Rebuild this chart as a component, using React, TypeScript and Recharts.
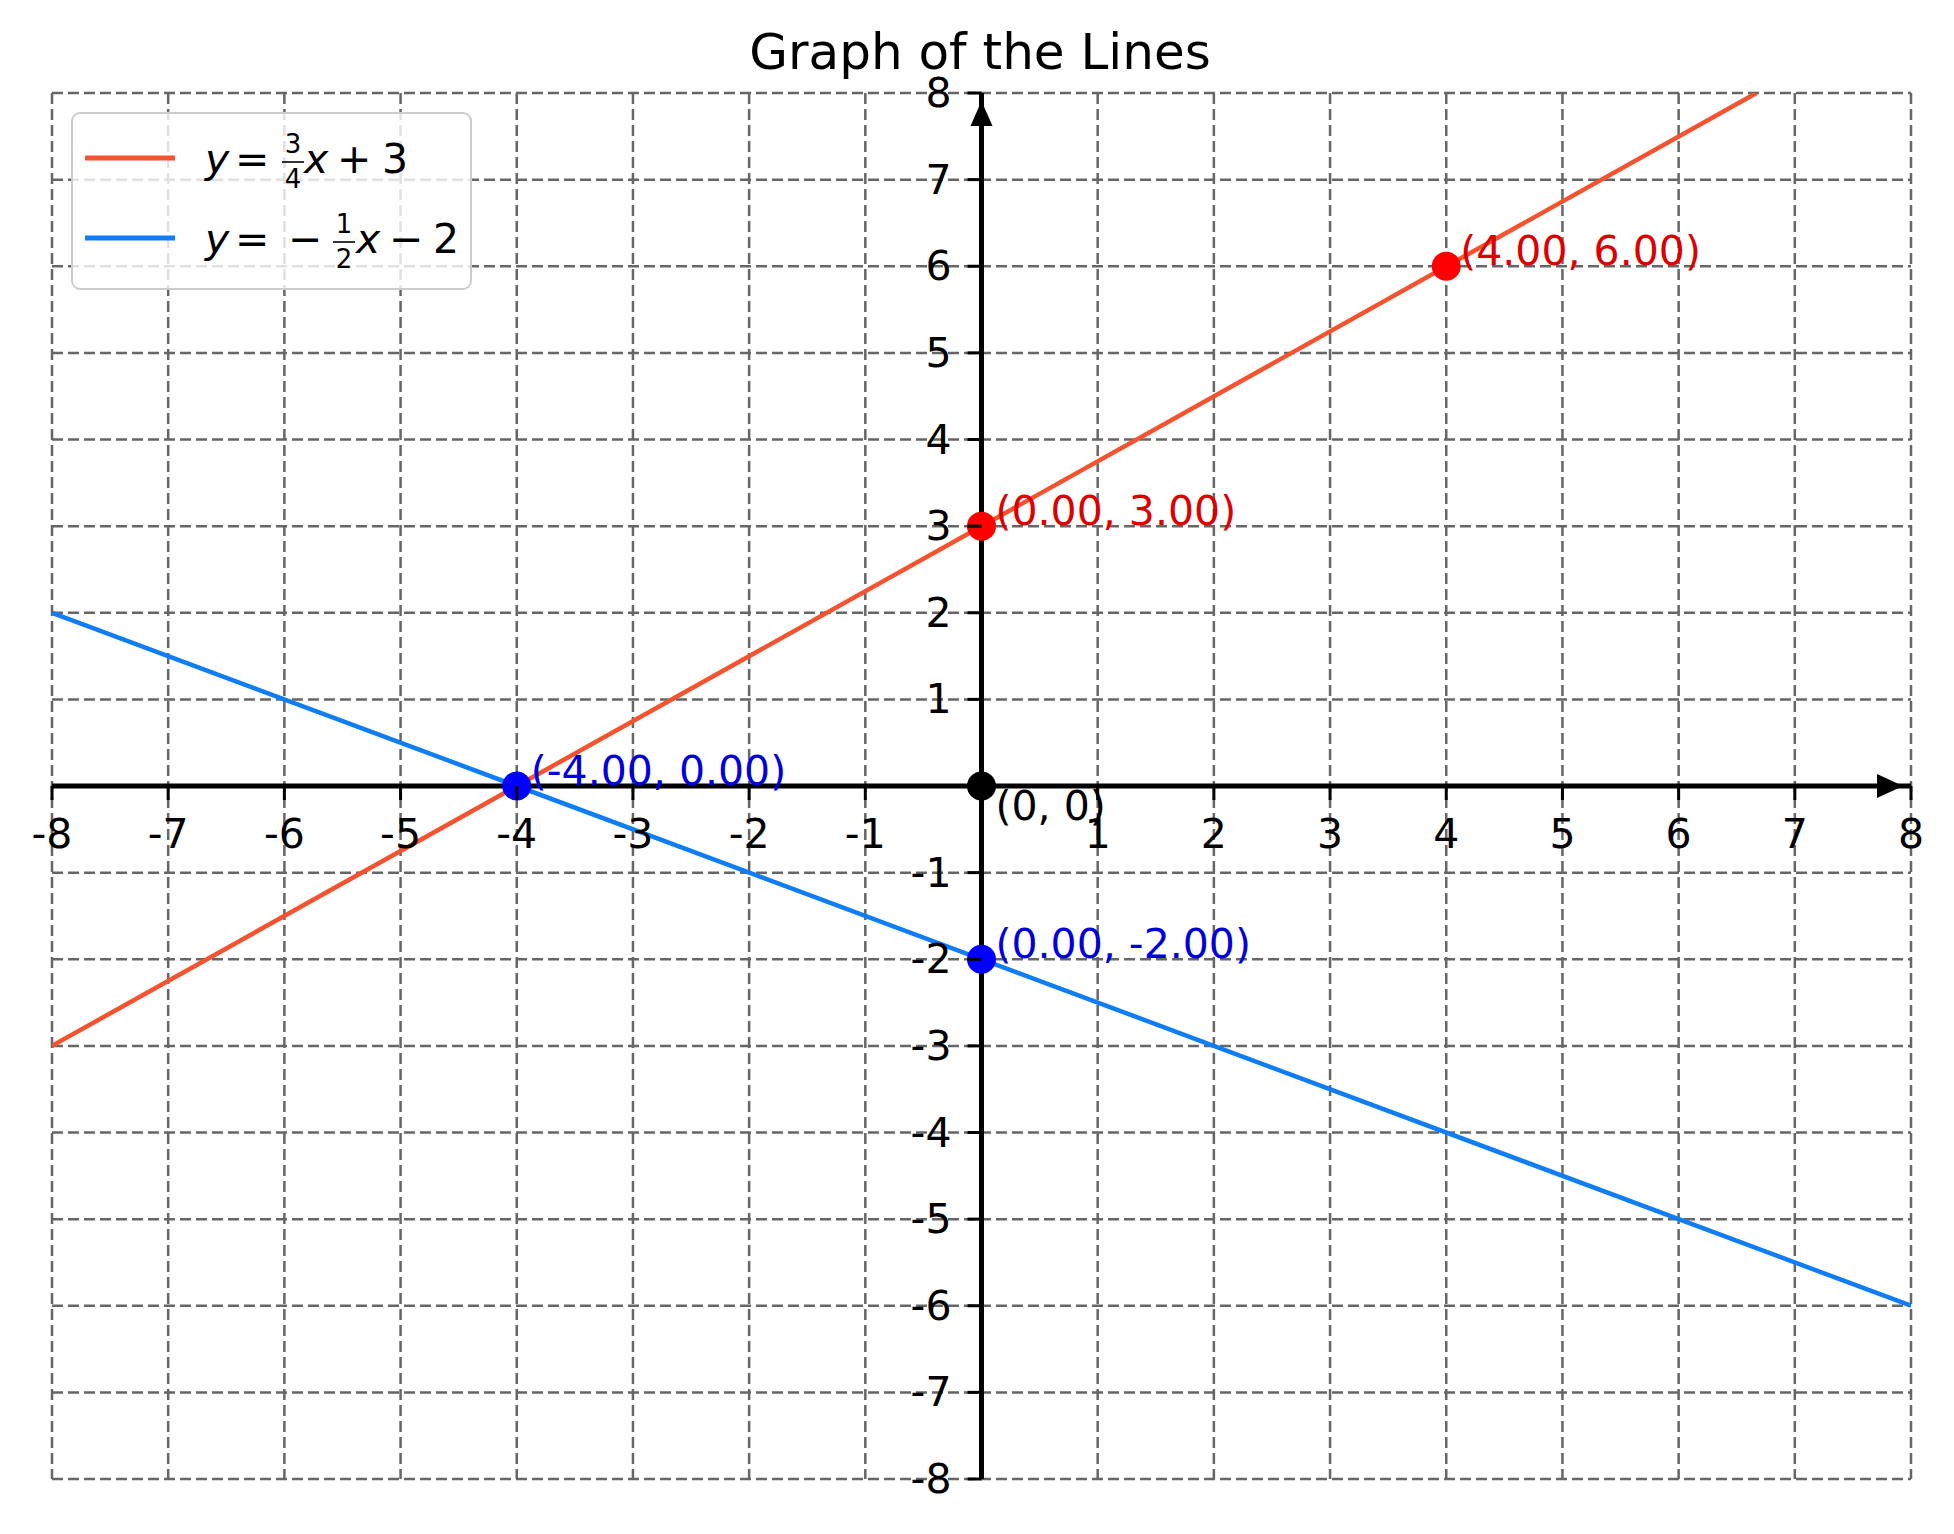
import React from 'react';
import {
  ComposedChart,
  Line,
  Scatter,
  XAxis,
  YAxis,
  CartesianGrid,
  ReferenceLine,
  ReferenceDot,
  Legend,
} from 'recharts';

// ---------------- data ----------------
const TITLE = 'Graph of the Lines';
const AXIS_MIN = -8;
const AXIS_MAX = 8;
const X_TICKS = [-8, -7, -6, -5, -4, -3, -2, -1, 0, 1, 2, 3, 4, 5, 6, 7, 8];
const Y_TICKS = [-8, -7, -6, -5, -4, -3, -2, -1, 0, 1, 2, 3, 4, 5, 6, 7, 8];

// y = 3/4 x + 3 (visible segment)
const ORANGE_LINE = [
  { x: -8, y: -3 },
  { x: 6.67, y: 8 },
];
// y = -1/2 x - 2
const BLUE_LINE = [
  { x: -8, y: 2 },
  { x: 8, y: -6 },
];

const RED_POINTS = [
  { x: 0, y: 3, label: '(0.00, 3.00)' },
  { x: 4, y: 6, label: '(4.00, 6.00)' },
];
const BLUE_POINTS = [
  { x: -4, y: 0, label: '(-4.00, 0.00)' },
  { x: 0, y: -2, label: '(0.00, -2.00)' },
];
const ORIGIN_POINT = [{ x: 0, y: 0, label: '(0, 0)' }];

// ---------------- layout / style ----------------
const W = 1946;
const H = 1526;
const MARGIN = { top: 85, right: 43, bottom: 54, left: 43 };
const AXIS_THICK = 1;
const PLOT_W = W - MARGIN.left - MARGIN.right - AXIS_THICK;
const PLOT_H = H - MARGIN.top - MARGIN.bottom - AXIS_THICK;
const ZERO_X = MARGIN.left + AXIS_THICK + PLOT_W / 2;
const ZERO_Y = MARGIN.top + PLOT_H / 2;
const FONT = "'DejaVu Sans', 'Liberation Sans', sans-serif";
const FS = 41;

const ORANGE = '#f4532f';
const BLUE = '#0f7df5';
const GRID = '#666666';

const XTick = (props: any) => {
  const { x, payload } = props;
  const v = payload.value;
  return (
    <g>
      <line x1={x} x2={x} y1={ZERO_Y} y2={ZERO_Y + 14} stroke="#000" strokeWidth={3} />
      {v !== 0 && (
        <text x={x} y={ZERO_Y + 62} textAnchor="middle" fontFamily={FONT} fontSize={FS} fill="#000">
          {String(v)}
        </text>
      )}
    </g>
  );
};

const YTick = (props: any) => {
  const { y, payload } = props;
  const v = payload.value;
  return (
    <g>
      <line x1={ZERO_X - 14} x2={ZERO_X} y1={y} y2={y} stroke="#000" strokeWidth={3} />
      {v !== 0 && (
        <text x={ZERO_X - 30} y={y + 14} textAnchor="end" fontFamily={FONT} fontSize={FS} fill="#000">
          {String(v)}
        </text>
      )}
    </g>
  );
};

const pointShape = (fill: string, textColor: string, dx: number, dy: number) => (props: any) => {
  const { cx, cy, payload } = props;
  return (
    <g>
      <circle cx={cx} cy={cy} r={14.5} fill={fill} />
      <text x={cx + dx} y={cy + dy} fontFamily={FONT} fontSize={FS} fill={textColor}>
        {payload.label}
      </text>
    </g>
  );
};

const UpArrow = (props: any) => {
  const { cx, cy } = props;
  return (
    <polygon
      points={`${cx},${cy + 8} ${cx - 11},${cy + 33} ${cx + 11},${cy + 33}`}
      fill="#000"
    />
  );
};

const RightArrow = (props: any) => {
  const { cx, cy } = props;
  return (
    <polygon
      points={`${cx - 8},${cy} ${cx - 34},${cy - 12} ${cx - 34},${cy + 12}`}
      fill="#000"
    />
  );
};

const LegendBox = () => {
  const t = { fontFamily: FONT, fill: '#000' } as any;
  return (
    <svg width={402} height={179} style={{ display: 'block' }}>
      <rect x={1} y={1} width={399} height={176} rx={8} ry={8} fill="rgba(255,255,255,0.8)" stroke="#cccccc" strokeWidth={2} />
      {/* row 1 */}
      <line x1={14} x2={104} y1={46} y2={46} stroke={ORANGE} strokeWidth={5} />
      <text {...t} x={134} y={61} fontSize={FS} fontStyle="italic">y</text>
      <text {...t} x={164} y={61} fontSize={FS}>=</text>
      <text {...t} x={222} y={41} fontSize={26} textAnchor="middle">3</text>
      <line x1={211} x2={233} y1={50} y2={50} stroke="#000" strokeWidth={1.6} />
      <text {...t} x={222} y={76} fontSize={26} textAnchor="middle">4</text>
      <text {...t} x={233} y={61} fontSize={FS} fontStyle="italic">x</text>
      <text {...t} x={266} y={61} fontSize={FS}>+</text>
      <text {...t} x={311} y={61} fontSize={FS}>3</text>
      {/* row 2 */}
      <line x1={14} x2={104} y1={126} y2={126} stroke={BLUE} strokeWidth={5} />
      <text {...t} x={134} y={141} fontSize={FS} fontStyle="italic">y</text>
      <text {...t} x={164} y={141} fontSize={FS}>=</text>
      <text {...t} x={217} y={141} fontSize={FS}>−</text>
      <text {...t} x={273} y={121} fontSize={26} textAnchor="middle">1</text>
      <line x1={262} x2={284} y1={130} y2={130} stroke="#000" strokeWidth={1.6} />
      <text {...t} x={273} y={156} fontSize={26} textAnchor="middle">2</text>
      <text {...t} x={285} y={141} fontSize={FS} fontStyle="italic">x</text>
      <text {...t} x={318} y={141} fontSize={FS}>−</text>
      <text {...t} x={362} y={141} fontSize={FS}>2</text>
    </svg>
  );
};

export default function App() {
  return (
    <div style={{ position: 'relative', width: W, height: H }}>
      <ComposedChart width={W} height={H} margin={MARGIN}>
        <CartesianGrid stroke={GRID} strokeDasharray="11 5" strokeWidth={2.5} />
        <XAxis
          dataKey="x"
          type="number"
          domain={[AXIS_MIN, AXIS_MAX]}
          ticks={X_TICKS}
          interval={0}
          allowDataOverflow
          axisLine={false}
          tickLine={false}
          height={AXIS_THICK}
          tick={(p: any) => <XTick {...p} />}
        />
        <YAxis
          dataKey="y"
          type="number"
          domain={[AXIS_MIN, AXIS_MAX]}
          ticks={Y_TICKS}
          interval={0}
          allowDataOverflow
          axisLine={false}
          tickLine={false}
          width={AXIS_THICK}
          tick={(p: any) => <YTick {...p} />}
        />
        <Legend
          layout="vertical"
          align="center"
          verticalAlign="middle"
          wrapperStyle={{ left: 63, top: 104, width: 402, height: 179 }}
          content={() => <LegendBox />}
        />
        <Line
          data={ORANGE_LINE}
          dataKey="y"
          name="y = 3/4 x + 3"
          stroke={ORANGE}
          strokeWidth={4.5}
          dot={false}
          activeDot={false}
          type="linear"
          isAnimationActive={false}
        />
        <Line
          data={BLUE_LINE}
          dataKey="y"
          name="y = -1/2 x - 2"
          stroke={BLUE}
          strokeWidth={4.5}
          dot={false}
          activeDot={false}
          type="linear"
          isAnimationActive={false}
        />
        <ReferenceLine y={0} stroke="#000" strokeWidth={5} />
        <ReferenceLine x={0} stroke="#000" strokeWidth={5} />
        <ReferenceDot x={0} y={AXIS_MAX} r={0} shape={(p: any) => <UpArrow {...p} />} />
        <ReferenceDot x={AXIS_MAX} y={0} r={0} shape={(p: any) => <RightArrow {...p} />} />
        <Scatter
          data={RED_POINTS}
          dataKey="y"
          fill="#ff0000"
          legendType="none"
          isAnimationActive={false}
          shape={pointShape('#ff0000', '#dd0000', 14, -1)}
        />
        <Scatter
          data={BLUE_POINTS}
          dataKey="y"
          fill="#0000ff"
          legendType="none"
          isAnimationActive={false}
          shape={pointShape('#0000ff', '#0000dd', 14, -1)}
        />
        <Scatter
          data={ORIGIN_POINT}
          dataKey="y"
          fill="#000"
          legendType="none"
          isAnimationActive={false}
          shape={pointShape('#000000', '#000000', 14, 34)}
        />
      </ComposedChart>
      <svg
        width={W}
        height={80}
        style={{ position: 'absolute', left: 0, top: 0, pointerEvents: 'none' }}
      >
        <text x={972} y={61} textAnchor="middle" fontFamily={FONT} fontSize={50} fill="#000">
          {TITLE}
        </text>
      </svg>
    </div>
  );
}
